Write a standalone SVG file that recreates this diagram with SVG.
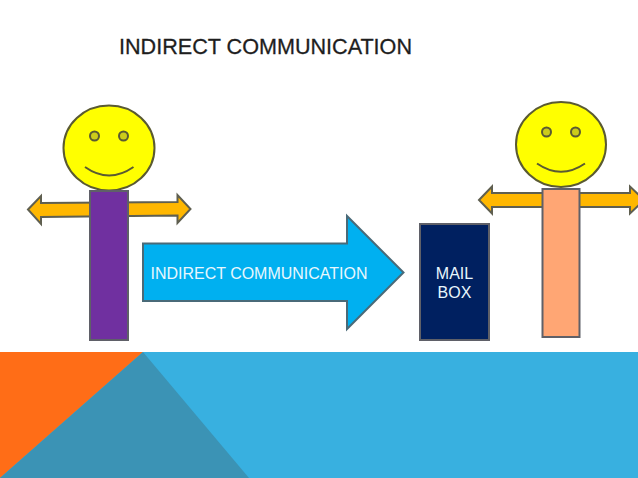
<svg xmlns="http://www.w3.org/2000/svg" width="638" height="478" viewBox="0 0 638 478">
<style>
.face{fill:#ffff00;stroke:#5a5a32;stroke-width:2}
.eye{fill:#cccc1a;stroke:#5a5a32;stroke-width:2}
.smile{fill:none;stroke:#5a5a32;stroke-width:2}
.arm{fill:#ffb700;stroke:#5f5f50;stroke-width:2}
.body{stroke:#5f6068;stroke-width:2}
text{font-family:"Liberation Sans",Arial,sans-serif}
.lbl{font-size:16px;fill:#e8f7fd}
</style>
<rect width="638" height="478" fill="#ffffff"/>
<g id="background">
<rect x="0" y="352" width="638" height="126" fill="#38b0e0"/>
<polygon points="0,352 143,352 0,478" fill="#ff6d17"/>
<polygon points="143,352 249,478 0,478" fill="#3b93b5"/>
</g>
<text id="title" x="119" y="53.500" font-size="22" fill="#1e1e1e" stroke="#1e1e1e" stroke-width="0.300" textLength="293" lengthAdjust="spacingAndGlyphs">INDIRECT COMMUNICATION</text>
<g id="person-left">
<polygon class="arm" points="28,209.500 41,196 41,203 177.500,202 177.500,195 190.500,209 177.500,223 177.500,215.500 41,217 41,224"/>
<ellipse class="face" cx="109" cy="148" rx="45.500" ry="42.500"/>
<circle class="eye" cx="94.500" cy="136" r="4.500"/>
<circle class="eye" cx="123.500" cy="136" r="4.500"/>
<path class="smile" d="M85,167 Q109,184 133.500,167"/>
<rect class="body" x="90" y="191" width="38" height="149" fill="#7030a0"/>
</g>
<g id="arrow">
<polygon points="143,243.500 347,243.500 347,216 403.500,272.500 347,329 347,301 143,301" fill="#00b0f0" stroke="#4a6a78" stroke-width="2"/>
<text class="lbl" x="150.500" y="279" textLength="217" lengthAdjust="spacingAndGlyphs">INDIRECT COMMUNICATION</text>
</g>
<g id="mailbox">
<rect class="body" x="420" y="224" width="69" height="116" fill="#002060"/>
<text class="lbl" x="454.500" y="279" text-anchor="middle">MAIL</text>
<text class="lbl" x="454.500" y="297.500" text-anchor="middle">BOX</text>
</g>
<g id="person-right">
<polygon class="arm" points="479,200 492,186.500 492,193 630,193 630,186.500 644,200 630,213.500 630,207 492,207 492,213.500"/>
<ellipse class="face" cx="561" cy="144.500" rx="45" ry="42.500"/>
<circle class="eye" cx="546.500" cy="132" r="4.500"/>
<circle class="eye" cx="575.500" cy="132" r="4.500"/>
<path class="smile" d="M537,163.500 Q561,180 585,163.500"/>
<rect class="body" x="542.500" y="189" width="37" height="148" fill="#ffa674"/>
</g>
</svg>
